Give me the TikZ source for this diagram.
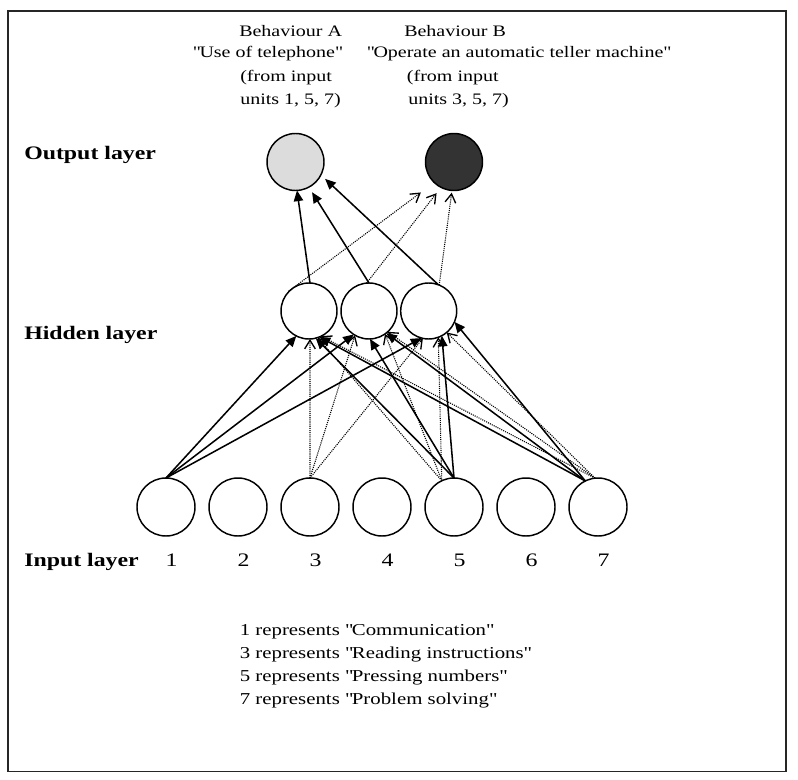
\documentclass[tikz,border=0pt]{standalone}
\usepackage{fontspec}
\setmainfont{Liberation Serif}[FakeStretch=1.25]
\usetikzlibrary{arrows.meta}
\definecolor{lightfill}{HTML}{DCDCDC}
\definecolor{darkfill}{HTML}{333333}
\newcommand{\dq}{\textquotedbl}
\begin{document}
\begin{tikzpicture}[x=0.75pt,y=-0.75pt,
  unit/.style={circle,draw,line width=1.1pt,inner sep=0pt,outer sep=0pt},
  inunit/.style={unit,minimum size=43.5pt},
  hidunit/.style={unit,minimum size=42pt},
  outunit/.style={unit,minimum size=42.75pt},
  solidarr/.style={line width=1.15pt,-{Triangle[length=8pt,width=7pt]}},
  dotarr/.style={line width=0.8pt,dash pattern=on 0.8pt off 0.8pt,
    -{Straight Barb[length=6.5pt,width=8pt,line width=1pt]}},
  txt/.style={inner sep=0pt,anchor=base west,font=\fontsize{12}{14}\selectfont},
  legtxt/.style={inner sep=0pt,anchor=base west,font=\fontsize{12.5}{15}\selectfont},
  boldtxt/.style={inner sep=0pt,anchor=base west,font=\fontsize{14.3}{17}\selectfont\bfseries},
  numtxt/.style={inner sep=0pt,anchor=base,font=\fontsize{14.3}{17}\selectfont}
]
\useasboundingbox (0,0) rectangle (798,780);
\draw[line width=1.3pt,black!85] (8,11) rectangle (786,771.5);

% units
\foreach \i in {1,...,7}{
  \node[inunit] (in\i) at ({166+72*(\i-1)},507) {};
  \node[numtxt] (num\i) at ({171.5+72*(\i-1)},566.5) {\i};
}
\node[hidunit] (h1) at (309,311) {};
\node[hidunit] (h2) at (369,311) {};
\node[hidunit] (h3) at (428.7,311) {};
\node[outunit,fill=lightfill] (oA) at (295.5,162) {};
\node[outunit,fill=darkfill] (oB) at (454,162) {};

% hidden -> output
\draw[solidarr] (h1.88) -- (oA.-87);
\draw[solidarr,shorten >=4.5pt] (h2.north) -- (oA.-62);
\draw[solidarr,shorten >=4.3pt] (h3.70) -- (oA.-27);
\draw[dotarr,shorten >=12.5pt,shorten <=-4pt] (h1.126) -- (oB.226);
\draw[dotarr,shorten >=5.5pt] (h2.95) -- (oB.243);
\draw[dotarr,shorten >=1.7pt] (h3.68) -- (oB.266);

% input 1 (solid)
\draw[solidarr] (in1.north) -- (h1.243);
\draw[solidarr] (in1.north) -- (h2.237);
\draw[solidarr] (in1.north) -- (h3.255);
% input 3 (dotted)
\draw[dotarr] (in3.north) -- (h1.-88);
\draw[dotarr] (in3.north) -- (h2.240);
\draw[dotarr] (in3.north) -- (h3.258);
% input 5 (solid and dotted)
\draw[solidarr] (in5.north) -- (h1.-76);
\draw[solidarr] (in5.north) -- (h2.-88);
\draw[solidarr] (in5.north) -- (h3.-62);
\draw[dotarr] (in5.115) -- (h1.-72);
\draw[dotarr] (in5.115) -- (h2.-55);
\draw[dotarr] (in5.115) -- (h3.-70);
% input 7 (solid and dotted)
\draw[solidarr] (in7.116) -- (h1.-68);
\draw[solidarr] (in7.116) -- (h2.-52);
\draw[solidarr] (in7.116) -- (h3.-23);
\draw[dotarr] (in7.96) -- (h1.-64);
\draw[dotarr] (in7.96) -- (h2.-48);
\draw[dotarr] (in7.96) -- (h3.-50);

% layer labels
\node[boldtxt] (lOut) at (24,159.3) {Output layer};
\node[boldtxt] (lHid) at (24,339.3) {Hidden layer};
\node[boldtxt] (lIn) at (24,566.3) {Input layer};

% behaviour texts
\node[txt] (a1) at (239,36.7) {Behaviour A};
\node[txt] (a2) at (192.7,58) {\dq Use of telephone\dq};
\node[txt] (a3) at (240,82) {(from input};
\node[txt] (a4) at (240,105) {units 1, 5, 7)};
\node[txt] (b1) at (404,36.7) {Behaviour B};
\node[txt] (b2) at (366.7,58) {\dq Operate an automatic teller machine\dq};
\node[txt] (b3) at (406.7,82) {(from input};
\node[txt] (b4) at (408,105) {units 3, 5, 7)};

% legend
\node[legtxt] (leg1) at (239.5,635.7) {1 represents \dq Communication\dq};
\node[legtxt] (leg2) at (239.5,658.3) {3 represents \dq Reading instructions\dq};
\node[legtxt] (leg3) at (239.5,681.7) {5 represents \dq Pressing numbers\dq};
\node[legtxt] (leg4) at (239.5,704.3) {7 represents \dq Problem solving\dq};
\end{tikzpicture}
\end{document}
